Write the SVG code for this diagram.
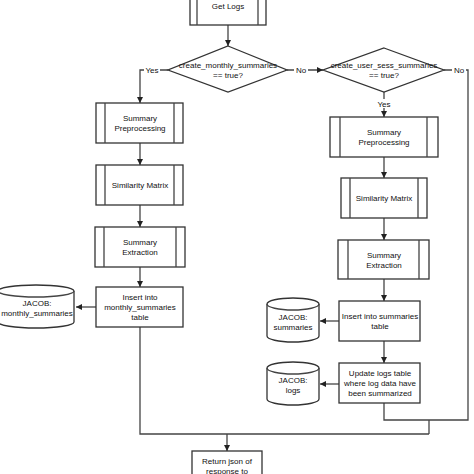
<svg xmlns="http://www.w3.org/2000/svg" width="474" height="474" viewBox="0 0 474 474">
<defs>
<marker id="ah" viewBox="0 0 10 10" refX="10" refY="5" markerWidth="6" markerHeight="6" markerUnits="userSpaceOnUse" orient="auto">
<path d="M0,0 L10,5 L0,10 z" fill="#222"/>
</marker>
<style>
.s{fill:#fff;stroke:#333;stroke-width:1.3}
.l{fill:none;stroke:#444;stroke-width:1.3}
.c{fill:none;stroke:#444;stroke-width:1.3;marker-end:url(#ah)}
text{font-family:"Liberation Sans",Arial,sans-serif;font-size:8px;fill:#111;text-anchor:middle}
.lb{fill:#fff}
</style>
</defs>
<rect width="474" height="474" fill="#fff"/>
<g id="connectors">
<path class="c" d="M228,25 V46"/>
<path class="c" d="M168,70 H140 V103"/>
<path class="c" d="M287,70 H323"/>
<path class="c" d="M140,143 V165"/>
<path class="c" d="M140,205 V227"/>
<path class="c" d="M140,267 V287"/>
<path class="c" d="M96,307 H76"/>
<path class="l" d="M140,327 V434 H429"/>
<path class="c" d="M227,434 V451"/>
<path class="c" d="M384,92 V117"/>
<path class="c" d="M384,157 V178"/>
<path class="c" d="M384,218 V240"/>
<path class="c" d="M384,279 V301"/>
<path class="c" d="M339,321 H320"/>
<path class="c" d="M384,341 V363"/>
<path class="c" d="M339,384 H320"/>
<path class="l" d="M444,70 H468 V420 H384 V403"/>
<path class="l" d="M429,420 V434"/>
<rect class="lb" x="144" y="65" width="16" height="9"/>
<text x="152" y="73">Yes</text>
<rect class="lb" x="294" y="65" width="14" height="9"/>
<text x="301" y="73">No</text>
<rect class="lb" x="452" y="65" width="14" height="9"/>
<text x="459" y="73">No</text>
<rect class="lb" x="376" y="99" width="16" height="9"/>
<text x="384" y="107">Yes</text>
</g>
<g id="get-logs">
<rect class="s" x="190" y="-5" width="76" height="30"/>
<path class="l" d="M197,-5 V25 M258,-5 V25"/>
<text x="228" y="9">Get Logs</text>
</g>
<g id="decision-monthly">
<path class="s" d="M228,46 L287,70 L228,92 L168,70 Z"/>
<text x="228" y="68">create_monthly_summaries</text>
<text x="228" y="78">== true?</text>
</g>
<g id="decision-user-sess">
<path class="s" d="M384,48 L444,70 L384,92 L323,70 Z"/>
<text x="384" y="68">create_user_sess_summaries</text>
<text x="384" y="78">== true?</text>
</g>
<g id="l-preprocessing">
<rect class="s" x="96" y="103" width="87" height="40"/>
<path class="l" d="M105,103 V143 M174,103 V143"/>
<text x="140" y="121">Summary</text>
<text x="140" y="131">Preprocessing</text>
</g>
<g id="l-similarity">
<rect class="s" x="96" y="165" width="87" height="40"/>
<path class="l" d="M105,165 V205 M174,165 V205"/>
<text x="140" y="188">Similarity Matrix</text>
</g>
<g id="l-extraction">
<rect class="s" x="95" y="227" width="90" height="40"/>
<path class="l" d="M104,227 V267 M176,227 V267"/>
<text x="140" y="245">Summary</text>
<text x="140" y="255">Extraction</text>
</g>
<g id="l-insert">
<rect class="s" x="96" y="287" width="87" height="40"/>
<text x="140" y="300">Insert into</text>
<text x="140" y="310">monthly_summaries</text>
<text x="140" y="320">table</text>
</g>
<g id="db-monthly">
<path class="s" d="M-2,291 V322 A38,6 0 0 0 74,322 V291 A38,6 0 0 0 -2,291 Z"/>
<path class="l" d="M-2,291 A38,6 0 0 0 74,291"/>
<text x="37" y="306">JACOB:</text>
<text x="37" y="316">monthly_summaries</text>
</g>
<g id="r-preprocessing">
<rect class="s" x="330" y="117" width="108" height="40"/>
<path class="l" d="M340,117 V157 M427,117 V157"/>
<text x="384" y="135">Summary</text>
<text x="384" y="145">Preprocessing</text>
</g>
<g id="r-similarity">
<rect class="s" x="341" y="178" width="86" height="40"/>
<path class="l" d="M350,178 V218 M418,178 V218"/>
<text x="384" y="201">Similarity Matrix</text>
</g>
<g id="r-extraction">
<rect class="s" x="338" y="240" width="91" height="39"/>
<path class="l" d="M348,240 V279 M419,240 V279"/>
<text x="384" y="258">Summary</text>
<text x="384" y="268">Extraction</text>
</g>
<g id="r-insert">
<rect class="s" x="339" y="301" width="81" height="40"/>
<text x="380" y="319">Insert into summaries</text>
<text x="380" y="329">table</text>
</g>
<g id="db-summaries">
<path class="s" d="M267,304 V336 A26,6 0 0 0 319,336 V304 A26,6 0 0 0 267,304 Z"/>
<path class="l" d="M267,304 A26,6 0 0 0 319,304"/>
<text x="293" y="320">JACOB:</text>
<text x="293" y="330">summaries</text>
</g>
<g id="r-update">
<rect class="s" x="339" y="363" width="81" height="40"/>
<text x="380" y="376">Update logs table</text>
<text x="380" y="386">where log data have</text>
<text x="380" y="396">been summarized</text>
</g>
<g id="db-logs">
<path class="s" d="M267,368 V399 A26,6 0 0 0 319,399 V368 A26,6 0 0 0 267,368 Z"/>
<path class="l" d="M267,368 A26,6 0 0 0 319,368"/>
<text x="293" y="383">JACOB:</text>
<text x="293" y="393">logs</text>
</g>
<g id="return">
<rect class="s" x="192" y="451" width="70" height="30"/>
<text x="227" y="464">Return json of</text>
<text x="227" y="474">response to</text>
</g>
</svg>
